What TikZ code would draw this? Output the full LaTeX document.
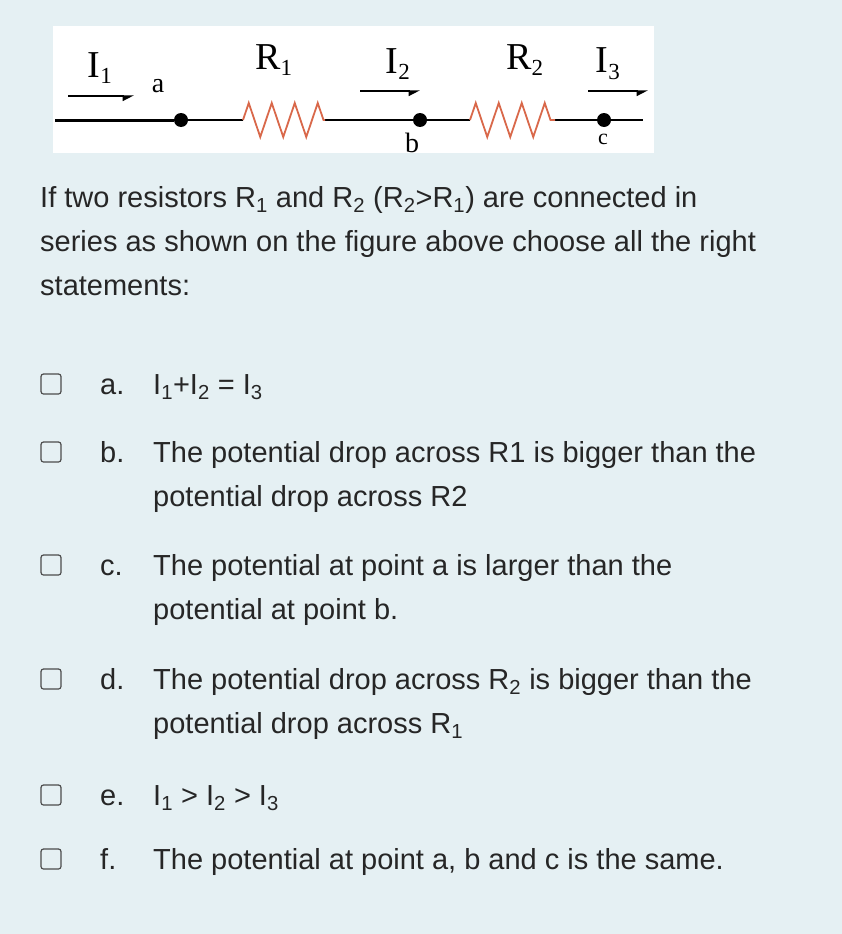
\documentclass[tikz,border=0pt]{standalone}
\usepackage{fontspec}
\setmainfont{Liberation Sans}
\newfontfamily\serifb{Liberation Serif}
\usetikzlibrary{arrows.meta,decorations.pathmorphing}
\definecolor{bg}{HTML}{E5F0F3}
\definecolor{res}{HTML}{D9684A}
\begin{document}
\begin{tikzpicture}[x=1pt,y=-1pt,
  txt/.style={anchor=base west,inner sep=0pt,font=\fontsize{29}{34}\selectfont,text=black!85},
  cl/.style={inner sep=0pt,font=\serifb\fontsize{38}{38}\selectfont},
  sl/.style={inner sep=0pt,font=\serifb\fontsize{28}{28}\selectfont},
  dotn/.style={circle,fill=black,inner sep=0pt,minimum size=14pt},
  cb/.style={draw=black!70,line width=1.2pt,rounded corners=2.5pt,minimum size=20pt,inner sep=0pt},
  harp/.style={line width=1.3pt,-{Triangle[right,length=10pt,width=10pt]}},
  resz/.style={res,line width=1.8pt,decorate,decoration={zigzag,segment length=23pt,amplitude=17pt}}]
\fill[bg] (0,0) rectangle (842,934);
\fill[white] (53,26) rectangle (654,153);
% circuit
\coordinate (w0) at (55,120);
\coordinate (w1) at (643,120);
\node[dotn] (a) at (181,120) {};
\node[dotn] (b) at (420,120) {};
\node[dotn] (c) at (604,120) {};
\coordinate (r1s) at (243,120); \coordinate (r1e) at (325,120);
\coordinate (r2s) at (470,120); \coordinate (r2e) at (555,120);
\draw[line width=3pt] (w0) -- (a);
\draw[line width=2.2pt] (a) -- (r1s) (r1e) -- (b) -- (r2s) (r2e) -- (c) -- (w1);
\draw[resz] (r1s) -- (r1e);
\draw[resz] (r2s) -- (r2e);
\node[cl] (I1) at (100,68) {I\textsubscript{\fontsize{23}{23}\selectfont 1}};
\node[sl] (la) at (158,86) {a};
\node[cl] (R1) at (274,60) {R\textsubscript{\fontsize{23}{23}\selectfont 1}};
\node[cl] (I2) at (398,64) {I\textsubscript{\fontsize{23}{23}\selectfont 2}};
\node[cl] (R2) at (525,60) {R\textsubscript{\fontsize{23}{23}\selectfont 2}};
\node[cl] (I3) at (608,64) {I\textsubscript{\fontsize{23}{23}\selectfont 3}};
\node[sl] (lb) at (412,143) {b};
\node[sl,font=\serifb\fontsize{22}{22}\selectfont] (lc) at (603,139) {c};
\coordinate (h1s) at (68,96); \coordinate (h1e) at (134,96);
\coordinate (h2s) at (360,91); \coordinate (h2e) at (420,91);
\coordinate (h3s) at (588,91); \coordinate (h3e) at (648,91);
\draw[harp] (h1s) -- (h1e);
\draw[harp] (h2s) -- (h2e);
\draw[harp] (h3s) -- (h3e);
% text
\node[txt] (q1) at (40,207) {If two resistors R\textsubscript{1} and R\textsubscript{2} (R\textsubscript{2}>R\textsubscript{1}) are connected in};
\node[txt] (q2) at (40,251) {series as shown on the figure above choose all the right};
\node[txt] (q3) at (40,295) {statements:};
\foreach \y/\l in {394/a,462/b,575/c,689/d,805/e,869/f}{
  \node[cb] (cb\l) at (51,\y-10) {};
  \node[txt] (l\l) at (100,\y) {\l.};
}
\node[txt] at (153,394) {I\textsubscript{1}+I\textsubscript{2} = I\textsubscript{3}};
\node[txt] at (153,462) {The potential drop across R1 is bigger than the};
\node[txt] at (153,506) {potential drop across R2};
\node[txt] at (153,575) {The potential at point a is larger than the};
\node[txt] at (153,619) {potential at point b.};
\node[txt] at (153,689) {The potential drop across R\textsubscript{2} is bigger than the};
\node[txt] at (153,733) {potential drop across R\textsubscript{1}};
\node[txt] at (153,805) {I\textsubscript{1} > I\textsubscript{2} > I\textsubscript{3}};
\node[txt] at (153,869) {The potential at point a, b and c is the same.};
\end{tikzpicture}
\end{document}
